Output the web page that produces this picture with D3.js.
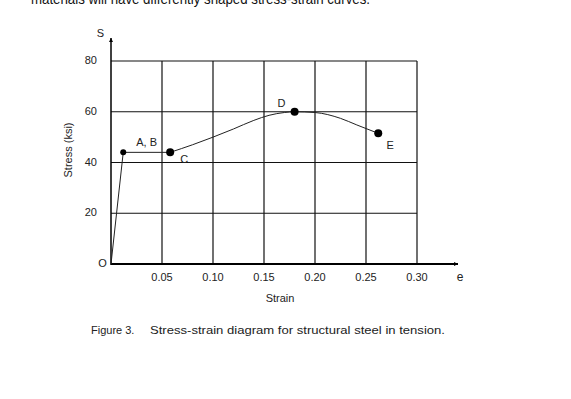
<!DOCTYPE html>
<html><head><meta charset="utf-8">
<script src="https://cdn.jsdelivr.net/npm/d3@7"></script>
<style>body{margin:0;background:#fff}svg{display:block}text{font-family:"Liberation Sans",Arial,sans-serif}</style>
</head><body>
<script>
// Data
const curveStrain = [0, 0.012, 0.058, 0.08, 0.10, 0.12, 0.14, 0.155, 0.17, 0.18, 0.20, 0.225, 0.241, 0.262];
const curveStress = [0, 44, 44, 47, 50, 53.2, 56.6, 58.6, 59.7, 60, 59.7, 57.4, 54.8, 51.5];
const pointLabels = ["A, B", "C", "D", "E"];
const pointStrain = [0.012, 0.058, 0.18, 0.262];
const pointStress = [44, 44, 60, 51.5];
const xTicks = [0.05, 0.10, 0.15, 0.20, 0.25, 0.30];
const yTicks = [20, 40, 60, 80];
const topText = "materials will have differently shaped stress-strain curves.";
const captionNum = "Figure 3.";
const captionText = "Stress-strain diagram for structural steel in tension.";

const W = 571, H = 399;
const svg = d3.select("body").append("svg").attr("width", W).attr("height", H);
const x = d3.scaleLinear().domain([0, 0.30]).range([111, 417]);
const y = d3.scaleLinear().domain([0, 80]).range([264, 61]);

// top clipped text (as in the reference, only its lower part shows)
svg.append("text").attr("x", 31).attr("y", 3.5).attr("font-size", 15)
  .attr("font-family", "'Open Sans', sans-serif").attr("textLength", 339)
  .attr("lengthAdjust", "spacingAndGlyphs").attr("fill", "#111").text(topText);

// grid
const g = svg.append("g");
g.selectAll(".vg").data(xTicks).join("line")
  .attr("x1", d => x(d)).attr("x2", d => x(d)).attr("y1", y(80)).attr("y2", y(0))
  .attr("stroke", "#111").attr("stroke-width", 1.2);
g.selectAll(".hg").data(yTicks).join("line")
  .attr("x1", x(0)).attr("x2", x(0.30)).attr("y1", d => y(d)).attr("y2", d => y(d))
  .attr("stroke", "#111").attr("stroke-width", 1.2);

// arrow marker
const defs = svg.append("defs");
defs.append("marker").attr("id", "arr").attr("viewBox", "0 0 10 10").attr("refX", 10).attr("refY", 5)
  .attr("markerWidth", 7).attr("markerHeight", 4).attr("markerUnits", "userSpaceOnUse").attr("orient", "auto")
  .append("path").attr("d", "M0,0L10,5L0,10Z").attr("fill", "#000");

// axes
svg.append("line").attr("x1", x(0)).attr("x2", x(0)).attr("y1", y(0) + 1).attr("y2", 38)
  .attr("stroke", "#000").attr("stroke-width", 1.5).attr("marker-end", "url(#arr)");
svg.append("line").attr("x1", x(0)).attr("x2", 458).attr("y1", y(0)).attr("y2", y(0))
  .attr("stroke", "#000").attr("stroke-width", 2).attr("marker-end", "url(#arr)");

// tick labels
svg.selectAll(".xt").data(xTicks).join("text")
  .attr("x", d => x(d)).attr("y", 281).attr("text-anchor", "middle").attr("font-size", 11).attr("fill", "#222")
  .text(d => d3.format(".2f")(d));
svg.selectAll(".yt").data(yTicks).join("text")
  .attr("x", 97).attr("y", d => y(d) + 3).attr("text-anchor", "end").attr("font-size", 11).attr("fill", "#222")
  .text(d => d);
svg.append("text").attr("x", 102.5).attr("y", 267).attr("text-anchor", "middle").attr("font-size", 11).attr("fill", "#222").text("O");
svg.append("text").attr("x", 100.5).attr("y", 37).attr("text-anchor", "middle").attr("font-size", 11).attr("fill", "#222").text("S");
svg.append("text").attr("x", 460).attr("y", 281).attr("text-anchor", "middle").attr("font-size", 12).attr("fill", "#222").text("e");
svg.append("text").attr("x", 280).attr("y", 302).attr("text-anchor", "middle").attr("font-size", 11).attr("fill", "#222").text("Strain");
svg.append("text").attr("transform", "translate(72,150) rotate(-90)").attr("text-anchor", "middle")
  .attr("font-size", 11).attr("fill", "#222").text("Stress (ksi)");

// curve
const pts = curveStrain.map((s, i) => [x(s), y(curveStress[i])]);
svg.append("path").attr("d", d3.line().curve(d3.curveLinear)(pts.slice(0, 3)))
  .attr("fill", "none").attr("stroke", "#222").attr("stroke-width", 1);
svg.append("path").attr("d", d3.line().curve(d3.curveMonotoneX)(pts.slice(2)))
  .attr("fill", "none").attr("stroke", "#222").attr("stroke-width", 1);

// points
svg.selectAll(".pt").data(pointLabels).join("circle")
  .attr("cx", (d, i) => x(pointStrain[i])).attr("cy", (d, i) => y(pointStress[i]))
  .attr("r", (d, i) => i === 0 ? 3 : 4).attr("fill", "#000");
const labelDx = [13, 14, -13, 12];
const labelDy = [-10, 7, -9, 12];
svg.selectAll(".pl").data(pointLabels).join("text")
  .attr("x", (d, i) => x(pointStrain[i]) + labelDx[i]).attr("y", (d, i) => y(pointStress[i]) + labelDy[i] + 4)
  .attr("text-anchor", (d, i) => i === 0 ? "start" : "middle")
  .attr("font-size", 11).attr("fill", "#222").text(d => d);

// caption
svg.append("text").attr("x", 91).attr("y", 334).attr("font-size", 11).attr("fill", "#222").text(captionNum);
svg.append("text").attr("x", 150).attr("y", 334).attr("font-size", 11).attr("fill", "#222")
  .attr("textLength", 295).attr("lengthAdjust", "spacingAndGlyphs").text(captionText);
</script>
</body></html>
